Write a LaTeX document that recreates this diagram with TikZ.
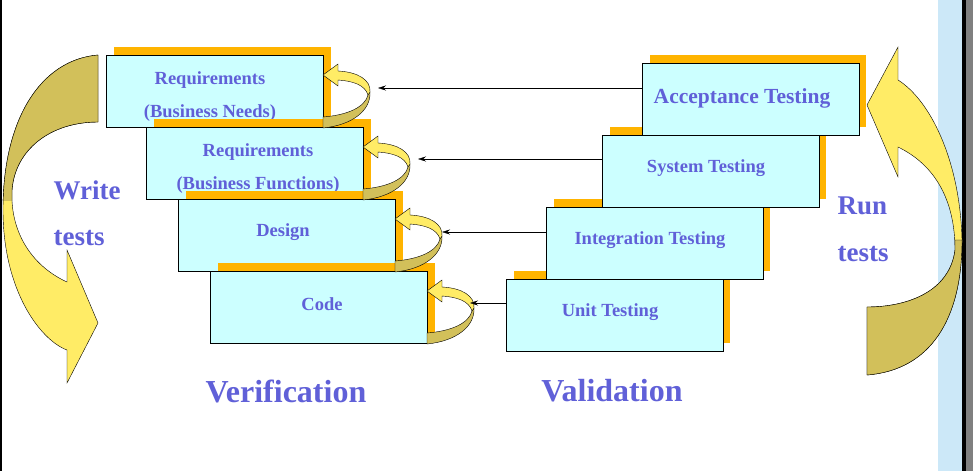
\documentclass[tikz,border=0pt]{standalone}
\usepackage{fontspec}
\setmainfont{Liberation Serif}
\usetikzlibrary{arrows.meta}
\definecolor{txt}{HTML}{6060D8}
\definecolor{shad}{HTML}{FFB400}
\definecolor{boxc}{HTML}{CCFFFF}
\definecolor{stripe}{HTML}{CCE8F8}
\definecolor{yel}{HTML}{FFEC66}
\definecolor{oli}{HTML}{D2C05A}
\begin{document}
\begin{tikzpicture}[x=1pt,y=-1pt,
  stage/.style={draw=black,fill=boxc,minimum width=217pt,minimum height=72pt,anchor=north west,inner sep=0pt},
  bt/.style={font=\bfseries\fontsize{18.5}{18}\selectfont,text=txt},
  lbl/.style={font=\bfseries\fontsize{32}{32}\selectfont,text=txt},
  side/.style={font=\bfseries\fontsize{27}{27}\selectfont,text=txt,anchor=west},
  feed/.style={-{Stealth[length=8pt,width=5pt]},thin}]
\useasboundingbox (0,0) rectangle (973,471);
\fill[white] (0,0) rectangle (973,471);
\fill[black] (0,0) rectangle (2,471);
\fill[stripe] (938,0) rectangle (962,471);
\fill[black] (962,0) rectangle (966,471);
\fill[gray] (966,0) rectangle (973,471);
\newcommand\curl[2]{%
 \fill[oli,draw=black,thin] (#1,#2+62) .. controls (#1+25,#2+60) and (#1+42,#2+52) .. (#1+45,#2+40) -- (#1+47,#2+37) .. controls (#1+48,#2+55) and (#1+30,#2+70) .. (#1,#2+73) -- cycle;
 \fill[yel,draw=black,thin] (#1+45,#2+40) .. controls (#1+42,#2+30) and (#1+30,#2+26) .. (#1+15,#2+25) -- (#1+15,#2+31) -- (#1,#2+20) -- (#1+15,#2+9) -- (#1+15,#2+16) .. controls (#1+35,#2+17) and (#1+48,#2+25) .. (#1+47,#2+37) -- cycle;}
% left boxes
\foreach \x/\y in {106/55,146/127,178/199,210/271}{\fill[shad] (\x+8,\y-8) rectangle (\x+225,\y+64);}
\node[stage] (r1) at (106,55) {};
\node[bt] at (210,80) {Requirements};
\node[bt] at (210,113) {(Business Needs)};
\fill[shad] (154,119) rectangle (371,127);
\node[stage] (r2) at (146,127) {};
\node[bt] at (258,152) {Requirements};
\node[bt] at (258,185) {(Business Functions)};
\fill[shad] (186,191) rectangle (403,199);
\node[stage] (de) at (178,199) {};
\node[bt] at (283,232) {Design};
\fill[shad] (218,263) rectangle (435,271);
\node[stage] (co) at (210,271) {};
\node[bt] at (322,304) {Code};
\curl{323}{55}\curl{363}{127}\curl{395}{199}\curl{427}{271}
\coordinate (c1) at (378,88);\coordinate (c2) at (418,159);\coordinate (c3) at (442,232);\coordinate (c4) at (470,303);
% right boxes
\foreach \x/\y in {642/63,602/135,546/207,506/279}{\fill[shad] (\x+8,\y-8) rectangle (\x+224,\y+64);}
\node[stage] (at) at (642,63) {}; \node[font=\bfseries\fontsize{21.5}{21}\selectfont,text=txt] at (742,98) {Acceptance Testing};
\node[stage] (st) at (602,135) {}; \node[bt] at (706,168) {System Testing};
\node[stage] (it) at (546,207) {}; \node[bt] at (650,240) {Integration Testing};
\node[stage] (ut) at (506,279) {}; \node[bt] at (610,312) {Unit Testing};
\draw[feed] (at.west|-c1) -- (c1);
\draw[feed] (st.west|-c2) -- (c2);
\draw[feed] (it.west|-c3) -- (c3);
\draw[feed] (ut.west|-c4) -- (c4);
% left big arrow
\fill[yel,draw=black,thin] (98,55) .. controls (40,60) and (3,120) .. (3,210) .. controls (3,290) and (40,340) .. (67,350) -- (67,383) -- (98,323) -- (67,250) -- (67,282) .. controls (30,265) and (10,230) .. (12,190) .. controls (15,150) and (50,122) .. (98,122) -- cycle;
\begin{scope}
\clip (0,0) rectangle (100,200);
\fill[oli,draw=black,thin] (98,55) .. controls (40,60) and (3,120) .. (3,210) -- (12,210) -- (12,190) .. controls (15,150) and (50,122) .. (98,122) -- cycle;
\end{scope}
% right big arrow
\fill[yel,draw=black,thin] (867,375) .. controls (930,370) and (962,320) .. (962,240) .. controls (960,160) and (930,100) .. (898,80) -- (898,47) -- (867,105) -- (898,177) -- (898,147) .. controls (935,165) and (955,200) .. (955,250) .. controls (950,290) and (910,307) .. (867,307) -- cycle;
\begin{scope}
\clip (850,230) rectangle (970,400);
\fill[oli,draw=black,thin] (867,375) .. controls (930,370) and (962,320) .. (962,240) -- (955,240) -- (955,250) .. controls (950,290) and (910,307) .. (867,307) -- cycle;
\end{scope}
% labels
\node[side] (w1) at (50,190) {Write};
\node[side] (w2) at (50,238) {tests};
\node[side] (q1) at (834,206) {Run};
\node[side] (q2) at (834,254) {tests};
\node[lbl] (ver) at (286,391) {Verification};
\node[lbl] (val) at (612,391) {Validation};
\end{tikzpicture}
\end{document}
